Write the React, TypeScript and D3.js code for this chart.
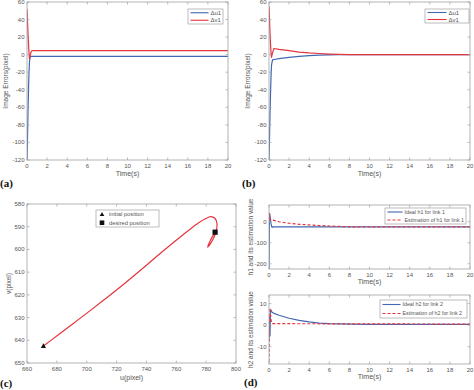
import React from 'react';
import * as d3 from 'd3';

// panel (a) image errors, first controller
const timeA = [0, 0.05, 0.1, 0.15, 0.2, 0.25, 0.3, 0.4, 0.5, 1, 20];
const du1A = [-120, -95, -65, -40, -20, -8, -3, -2, -2, -2, -2];
const dv1A = [52, 38, 24, 12, 2, -5, -2, 3, 4.5, 4.5, 4.5];

// panel (b) image errors, second controller
const timeB = [0, 0.05, 0.1, 0.15, 0.2, 0.25, 0.35, 0.5, 1, 2, 3, 4, 5, 6, 7, 8, 20];
const du1B = [-120, -95, -68, -45, -25, -12, -6, -5.5, -4.5, -3, -2, -1.2, -0.6, -0.3, -0.1, 0, 0];
const dv1B = [55, 40, 25, 12, 3, -3, 2, 7, 6, 4.5, 3, 2, 1.3, 0.7, 0.3, 0.1, 0];

// panel (c) image trajectory
const trajU = [671, 681, 691, 701, 711, 721, 731, 741, 751, 761, 769, 775, 779.5, 783, 786, 787.3, 786.5, 784, 781, 782.5, 786];
const trajV = [642.5, 637.6, 632.6, 627.6, 622.5, 617.3, 611.9, 606.4, 600.8, 595.4, 591.2, 588.3, 586.5, 585.6, 586.4, 588.8, 592.5, 596.3, 599, 596.5, 592.4];
const startPoint = [671, 642.5];
const goalPoint = [786, 592.4];

// panel (d) top, h1
const timeH1 = [0, 0.05, 0.1, 0.2, 0.3, 0.4, 1, 20];
const idealH1 = [-225, 40, 30, -10, -27, -24, -24, -24];
const timeH1e = [0, 0.05, 0.1, 0.2, 1, 2, 3, 4, 5, 6, 7, 8, 20];
const estH1 = [0, 35, 15, 10, 0, -7, -12, -15, -18, -20, -22, -24, -24];

// panel (d) bottom, h2
const timeH2 = [0, 0.05, 0.1, 0.15, 0.2, 0.3, 0.5, 1, 2, 3, 4, 5, 6, 8, 10, 20];
const idealH2 = [-7, 4, -5, 7, 7, 6, 5.5, 4.6, 3.2, 2.2, 1.5, 1, 0.7, 0.5, 0.4, 0.4];
const timeH2e = [0, 0.05, 0.1, 0.15, 0.25, 0.4, 20];
const estH2 = [-17, 0, 8, 5, 1, 0.7, 0.5];

const timeTicks = d3.range(0, 21, 2);
const errTicks = d3.range(-120, 61, 20);
const uTicks = d3.range(660, 801, 20);
const vTicks = d3.range(580, 651, 10);
const h1Ticks = [-200, -100, 0];
const h2Ticks = [-10, 0, 10];

const BLUE = '#4068b2';
const RED = '#e6343c';
const AXIS = '#a0a0a0';
const TEXT = '#555555';
const FONT = 'Liberation Sans, Arial, sans-serif';

type Series = { x: number[]; y: number[]; color: string; dash?: string; smooth?: boolean };
type LegendItem = { label: string; color: string; dash?: string; marker?: 'tri' | 'sq' };

interface PanelProps {
  id: string;
  left: number; right: number; top: number; bottom: number;
  xDomain: [number, number]; yDomain: [number, number];
  xTicks: number[]; yTicks: number[];
  reverseY?: boolean;
  series: Series[];
  xLabel: string; yLabel: string; yLabelX: number; xLabelY: number;
  legend: { x: number; y: number; w: number; h: number; font: number; items: LegendItem[]; lineLen: number };
  markers?: { p: number[]; kind: 'tri' | 'sq' }[];
}

function Marker({ x, y, kind, s }: { x: number; y: number; kind: 'tri' | 'sq'; s: number }) {
  if (kind === 'tri') {
    return <path d={`M${x},${y - s}L${x + s},${y + s * 0.8}L${x - s},${y + s * 0.8}Z`} fill="#111" />;
  }
  return <rect x={x - s} y={y - s} width={2 * s} height={2 * s} fill="#111" />;
}

function Panel(p: PanelProps) {
  const x = d3.scaleLinear().domain(p.xDomain).range([p.left, p.right]);
  const y = d3.scaleLinear().domain(p.yDomain).range(p.reverseY ? [p.top, p.bottom] : [p.bottom, p.top]);
  const line = (s: Series) =>
    d3.line<number>()
      .x((_, i) => x(s.x[i]))
      .y((d) => y(d))
      .curve(s.smooth ? d3.curveCatmullRom.alpha(0.5) : d3.curveLinear)(s.y) || '';
  const tl = 2.5;
  const lg = p.legend;
  return (
    <g>
      <defs>
        <clipPath id={`clip-${p.id}`}>
          <rect x={p.left} y={p.top} width={p.right - p.left} height={p.bottom - p.top} />
        </clipPath>
      </defs>
      <g clipPath={`url(#clip-${p.id})`}>
        {p.series.map((s, i) => (
          <path key={i} d={line(s)} fill="none" stroke={s.color} strokeWidth={1.2} strokeDasharray={s.dash} strokeLinejoin="round" />
        ))}
      </g>
      {p.markers &&
        p.markers.map((m, i) => <Marker key={i} x={x(m.p[0])} y={y(m.p[1])} kind={m.kind} s={2.6} />)}
      <rect x={p.left} y={p.top} width={p.right - p.left} height={p.bottom - p.top} fill="none" stroke={AXIS} strokeWidth={0.8} />
      {p.xTicks.map((t) => (
        <g key={`x${t}`}>
          <line x1={x(t)} x2={x(t)} y1={p.bottom} y2={p.bottom - tl} stroke={AXIS} strokeWidth={0.7} />
          <line x1={x(t)} x2={x(t)} y1={p.top} y2={p.top + tl} stroke={AXIS} strokeWidth={0.7} />
          <text x={x(t)} y={p.bottom + 8} fontSize={6} textAnchor="middle" fill={TEXT} fontFamily={FONT}>{t}</text>
        </g>
      ))}
      {p.yTicks.map((t) => (
        <g key={`y${t}`}>
          <line x1={p.left} x2={p.left + tl} y1={y(t)} y2={y(t)} stroke={AXIS} strokeWidth={0.7} />
          <line x1={p.right} x2={p.right - tl} y1={y(t)} y2={y(t)} stroke={AXIS} strokeWidth={0.7} />
          <text x={p.left - 2.5} y={y(t) + 2} fontSize={6} textAnchor="end" fill={TEXT} fontFamily={FONT}>{t}</text>
        </g>
      ))}
      <text x={(p.left + p.right) / 2} y={p.xLabelY} fontSize={7} textAnchor="middle" fill={TEXT} fontFamily={FONT}>{p.xLabel}</text>
      <text
        transform={`translate(${p.yLabelX},${(p.top + p.bottom) / 2}) rotate(-90)`}
        fontSize={6.5} textAnchor="middle" fill={TEXT} fontFamily={FONT}
      >{p.yLabel}</text>
      <rect x={lg.x} y={lg.y} width={lg.w} height={lg.h} fill="#fff" stroke={AXIS} strokeWidth={0.7} />
      {lg.items.map((it, i) => {
        const cy = lg.y + (lg.h / lg.items.length) * (i + 0.5);
        return (
          <g key={i}>
            {it.marker ? (
              <Marker x={lg.x + 6} y={cy} kind={it.marker} s={2.3} />
            ) : (
              <line x1={lg.x + 2.5} x2={lg.x + 2.5 + lg.lineLen} y1={cy} y2={cy} stroke={it.color} strokeWidth={1.1} strokeDasharray={it.dash} />
            )}
            <text
              x={it.marker ? lg.x + 13 : lg.x + lg.lineLen + 4.5}
              y={cy + lg.font * 0.35}
              fontSize={lg.font} fill={TEXT} fontFamily={FONT}
            >{it.label}</text>
          </g>
        );
      })}
    </g>
  );
}

export default function App() {
  const panelLabel = (t: string, px: number, py: number) => (
    <text x={px} y={py} fontSize={11} fontWeight="bold" fontFamily="Liberation Serif, Times New Roman, serif" fill="#111">{t}</text>
  );
  return (
    <svg width={474} height={390} style={{ position: 'absolute', left: 0, top: 0, background: '#fff' }}>
      <rect width={474} height={390} fill="#fff" />
      <Panel
        id="a" left={27} right={228} top={2} bottom={160}
        xDomain={[0, 20]} yDomain={[-120, 60]} xTicks={timeTicks} yTicks={errTicks}
        series={[{ x: timeA, y: du1A, color: BLUE }, { x: timeA, y: dv1A, color: RED }]}
        xLabel="Time(s)" yLabel="Image Errors(pixel)" yLabelX={8} xLabelY={176}
        legend={{ x: 188, y: 9, w: 35, h: 15, font: 6, lineLen: 18, items: [{ label: 'Δu1', color: BLUE }, { label: 'Δv1', color: RED }] }}
      />
      <Panel
        id="b" left={269} right={470} top={2} bottom={160}
        xDomain={[0, 20]} yDomain={[-120, 60]} xTicks={timeTicks} yTicks={errTicks}
        series={[{ x: timeB, y: du1B, color: BLUE }, { x: timeB, y: dv1B, color: RED }]}
        xLabel="Time(s)" yLabel="Image Errors(pixel)" yLabelX={250} xLabelY={176}
        legend={{ x: 425, y: 9, w: 44, h: 14, font: 6, lineLen: 19, items: [{ label: 'Δu1', color: BLUE }, { label: 'Δv1', color: RED }] }}
      />
      <Panel
        id="c" left={27} right={236} top={204} bottom={363}
        xDomain={[660, 800]} yDomain={[580, 650]} xTicks={uTicks} yTicks={vTicks} reverseY
        series={[{ x: trajU, y: trajV, color: RED, smooth: true }]}
        markers={[{ p: startPoint, kind: 'tri' }, { p: goalPoint, kind: 'sq' }]}
        xLabel="u(pixel)" yLabel="v(pixel)" yLabelX={11} xLabelY={380}
        legend={{ x: 96, y: 210, w: 63, h: 17, font: 5.8, lineLen: 0, items: [{ label: 'initial position', color: '#111', marker: 'tri' }, { label: 'desired position', color: '#111', marker: 'sq' }] }}
      />
      <Panel
        id="d1" left={269} right={470} top={205} bottom={269}
        xDomain={[0, 20]} yDomain={[-225, 80]} xTicks={timeTicks} yTicks={h1Ticks}
        series={[{ x: timeH1, y: idealH1, color: BLUE }, { x: timeH1e, y: estH1, color: RED, dash: '3,2' }]}
        xLabel="Time(s)" yLabel="h1 and its estimation value" yLabelX={253} xLabelY={284}
        legend={{ x: 385, y: 208, w: 81, h: 16, font: 5.3, lineLen: 15, items: [{ label: 'Ideal h1 for link 1', color: BLUE }, { label: 'Estimation of h1 for link 1', color: RED, dash: '3,2' }] }}
      />
      <Panel
        id="d2" left={269} right={470} top={295} bottom={364}
        xDomain={[0, 20]} yDomain={[-18, 14]} xTicks={timeTicks} yTicks={h2Ticks}
        series={[{ x: timeH2, y: idealH2, color: BLUE }, { x: timeH2e, y: estH2, color: RED, dash: '3,2' }]}
        xLabel="Time(s)" yLabel="h2 and its estimation value" yLabelX={253} xLabelY={379}
        legend={{ x: 380, y: 300, w: 87, h: 18, font: 5.3, lineLen: 18, items: [{ label: 'Ideal h2 for link 2', color: BLUE }, { label: 'Estimation of h2 for link 2', color: RED, dash: '3,2' }] }}
      />
      {panelLabel('(a)', 0, 187)}
      {panelLabel('(b)', 242, 187)}
      {panelLabel('(c)', 0, 387)}
      {panelLabel('(d)', 244, 386)}
    </svg>
  );
}
